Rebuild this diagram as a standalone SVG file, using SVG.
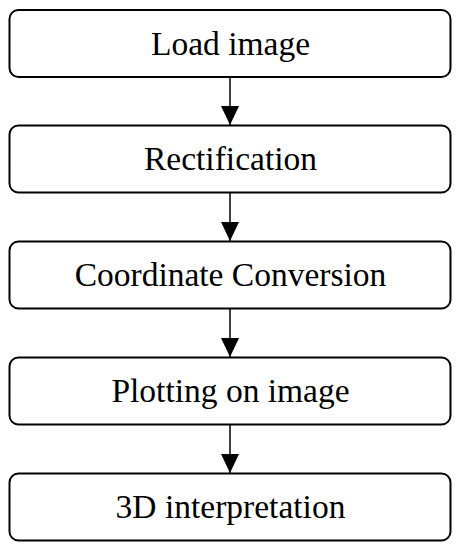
<svg xmlns="http://www.w3.org/2000/svg" width="456" height="550" viewBox="0 0 456 550">
<defs>
<style>
.box{fill:#fff;stroke:#000;stroke-width:2}
.lbl{font-family:"Liberation Serif","Times New Roman",serif;font-size:33.5px;fill:#000;text-anchor:middle}
.conn{stroke:#000;stroke-width:1.5;fill:none}
</style>
<marker id="ah" markerWidth="19" markerHeight="18" refX="19" refY="9" orient="auto" markerUnits="userSpaceOnUse">
<path d="M0,0 L19,9 L0,18 Z" fill="#000"/>
</marker>
</defs>
<rect width="456" height="550" fill="#fff"/>
<g id="connectors">
<line class="conn" x1="230" y1="77" x2="230" y2="125" marker-end="url(#ah)"/>
<line class="conn" x1="230" y1="193" x2="230" y2="241" marker-end="url(#ah)"/>
<line class="conn" x1="230" y1="309" x2="230" y2="357" marker-end="url(#ah)"/>
<line class="conn" x1="230" y1="425" x2="230" y2="473" marker-end="url(#ah)"/>
</g>
<g id="n1"><rect class="box" x="9.5" y="10" width="441" height="67" rx="9"/><text class="lbl" x="230.5" y="55">Load image</text></g>
<g id="n2"><rect class="box" x="9.5" y="125.5" width="441" height="67" rx="9"/><text class="lbl" x="230.5" y="170">Rectification</text></g>
<g id="n3"><rect class="box" x="9.5" y="241.5" width="441" height="67" rx="9"/><text class="lbl" x="230.5" y="286">Coordinate Conversion</text></g>
<g id="n4"><rect class="box" x="9.5" y="357.5" width="441" height="67" rx="9"/><text class="lbl" x="230.5" y="402">Plotting on image</text></g>
<g id="n5"><rect class="box" x="9.5" y="473.5" width="441" height="67" rx="9"/><text class="lbl" x="230.5" y="518">3D interpretation</text></g>
</svg>
